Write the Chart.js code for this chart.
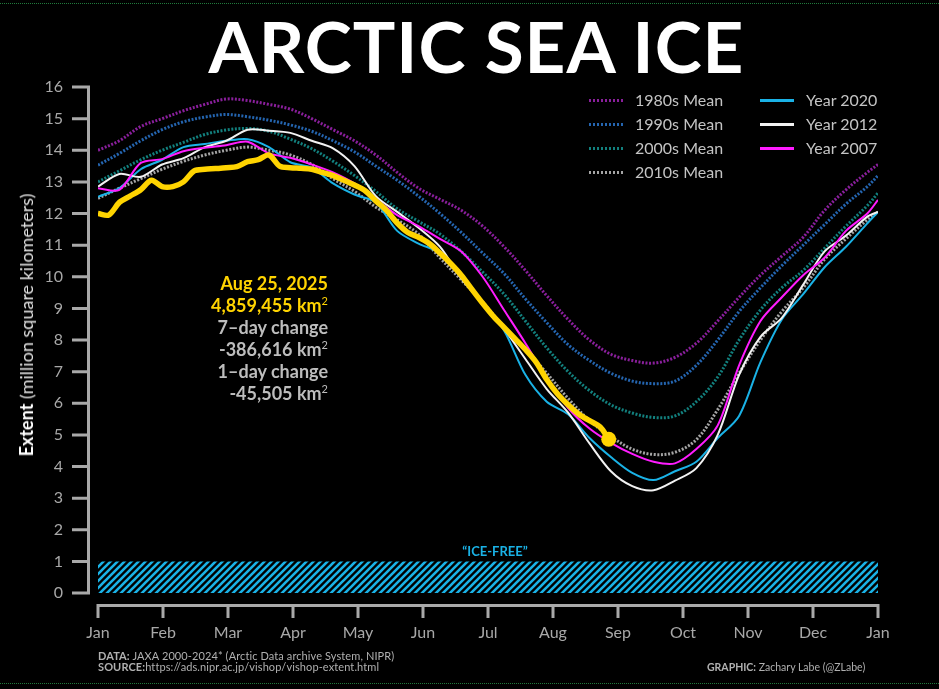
<!DOCTYPE html>
<html>
<head>
<meta charset="utf-8">
<script src="https://cdn.jsdelivr.net/npm/chart.js@4.4.1/dist/chart.umd.min.js"></script>
<style>
  html, body { margin: 0; padding: 0; background: #000; }
  body { width: 939px; height: 689px; position: relative; overflow: hidden; font-family: Lato, "DejaVu Sans", sans-serif; }
  canvas { position: absolute; left: 0; top: 0; }
  .frame-top, .frame-bottom { position: absolute; left: 0; width: 939px; border-top: 1px dotted #1f7a3c; }
  .frame-top { top: 3px; }
  .frame-bottom { top: 683px; }
  .title { position: absolute; top: 4px; left: 7px; width: 939px; text-align: center; color: #fff; font-weight: 700; font-size: 71px; line-height: 84px; letter-spacing: 1px; }
  .ytitle { position: absolute; left: 26px; top: 325px; transform: translate(-50%, -50%) rotate(-90deg); white-space: nowrap; font-size: 18px; color: #e0e0e0; }
  .ytitle b { color: #fff; }
  .note { position: absolute; right: 611px; top: 272px; text-align: right; font-size: 18px; font-weight: 700; line-height: 22px; white-space: nowrap; }
  .note .y { color: #ffd400; }
  .note .g { color: #bdbdbd; }
  .note sup { font-size: 11px; font-weight: 400; vertical-align: 7px; line-height: 0; }
  .legend { position: absolute; font-size: 16px; color: #c4c4c4; }
  .legend div { position: absolute; white-space: nowrap; height: 20px; line-height: 20px; }
  .legend span.s { position: absolute; top: 9px; height: 3px; width: 34px; }
  .legend span.t { position: absolute; left: 46px; top: 0; }
  .icefree { position: absolute; left: 495px; top: 543px; transform: translateX(-50%); color: #1ab2e6; font-weight: 700; font-size: 13px; white-space: nowrap; }
  .src { position: absolute; left: 98px; top: 650px; font-size: 11px; line-height: 11px; color: #b0b0b0; white-space: nowrap; letter-spacing: 0.1px; }
  .credit { position: absolute; left: 707px; top: 661px; font-size: 10.5px; color: #b0b0b0; white-space: nowrap; }
</style>
</head>
<body>
<canvas id="chart" width="939" height="689"></canvas>
<div class="frame-top"></div>
<div class="frame-bottom"></div>
<div class="title">ARCTIC SEA ICE</div>
<div class="ytitle"><b>Extent</b> (million square kilometers)</div>
<div class="note">
  <div class="y">Aug 25, 2025</div>
  <div class="y">4,859,455 km<sup>2</sup></div>
  <div class="g">7–day change</div>
  <div class="g">-386,616 km<sup>2</sup></div>
  <div class="g">1–day change</div>
  <div class="g">-45,505 km<sup>2</sup></div>
</div>
<div class="legend" id="legend"></div>
<div class="icefree">“ICE-FREE”</div>
<div class="src"><b>DATA:</b> JAXA 2000-2024* (Arctic Data archive System, NIPR)<br><b>SOURCE:</b>https://ads.nipr.ac.jp/vishop/vishop-extent.html</div>
<div class="credit"><b>GRAPHIC:</b> Zachary Labe (@ZLabe)</div>
<script>
// day of year for the decade means and the older years
const days10 = [0, 10, 20, 30, 40, 50, 60, 70, 80, 90, 100, 110, 120, 130, 140, 150, 160, 170, 180,
  190, 200, 210, 220, 230, 240, 250, 260, 270, 280, 290, 300, 310, 320, 330, 340, 350, 360, 365];

const mean1980s = [14.0, 14.3, 14.75, 15.0, 15.25, 15.45, 15.62, 15.57, 15.45, 15.3, 15.0, 14.65, 14.3,
  13.85, 13.3, 12.8, 12.45, 12.1, 11.6, 10.95, 10.2, 9.4, 8.65, 8.0, 7.55, 7.35, 7.27, 7.45, 7.9, 8.6,
  9.35, 10.05, 10.65, 11.25, 12.1, 12.75, 13.3, 13.55];
const mean1990s = [13.53, 13.9, 14.3, 14.65, 14.9, 15.05, 15.13, 15.06, 14.95, 14.8, 14.6, 14.3, 13.95,
  13.5, 13.05, 12.55, 12.0, 11.4, 10.75, 10.1, 9.3, 8.55, 7.85, 7.35, 6.95, 6.7, 6.62, 6.7, 7.2, 8.0,
  8.9, 9.65, 10.35, 11.0, 11.65, 12.3, 12.85, 13.2];
const mean2000s = [13.0, 13.35, 13.7, 14.0, 14.25, 14.5, 14.64, 14.69, 14.6, 14.35, 14.05, 13.65, 13.2,
  12.7, 12.15, 11.75, 11.35, 10.8, 10.15, 9.45, 8.6, 7.75, 7.0, 6.4, 5.95, 5.69, 5.55, 5.6, 6.05, 6.83,
  8.0, 8.95, 9.65, 10.2, 10.9, 11.6, 12.25, 12.65];
const mean2010s = [12.48, 12.8, 13.1, 13.4, 13.65, 13.85, 14.0, 14.1, 14.0, 13.85, 13.55, 13.1, 12.7,
  12.2, 11.8, 11.35, 10.6, 9.9, 9.2, 8.4, 7.7, 6.95, 6.15, 5.45, 4.95, 4.55, 4.38, 4.45, 4.85, 5.8,
  6.95, 8.0, 8.9, 9.65, 10.55, 11.2, 11.8, 12.05];

const year2020 = [12.53, 12.8, 13.4, 13.7, 14.1, 14.2, 14.3, 14.35, 14.1, 13.62, 13.45, 12.95, 12.6,
  12.35, 11.45, 11.05, 10.75, 10.0, 9.16, 8.3, 6.9, 6.05, 5.65, 4.9, 4.3, 3.8, 3.57, 3.85, 4.15, 4.9,
  5.6, 7.3, 8.65, 9.45, 10.3, 10.95, 11.69, 12.05];
const year2012 = [12.85, 13.25, 13.16, 13.55, 13.75, 14.1, 14.3, 14.65, 14.62, 14.55, 14.3, 14.06, 13.5,
  12.55, 12.05, 11.55, 10.95, 9.95, 9.16, 8.35, 7.4, 6.45, 5.7, 4.73, 3.85, 3.38, 3.25, 3.55, 3.95, 5.0,
  6.9, 8.1, 8.7, 9.75, 10.8, 11.3, 11.9, 12.05];
const year2007 = [12.8, 12.75, 13.6, 13.72, 13.97, 14.08, 14.16, 14.27, 13.9, 13.76, 13.55, 13.3, 12.95,
  12.45, 11.95, 11.6, 11.2, 10.8, 10.0, 8.95, 7.9, 6.8, 5.85, 5.2, 4.75, 4.4, 4.15, 4.1, 4.55, 5.3,
  7.2, 8.6, 9.35, 10.05, 10.6, 11.45, 12.0, 12.43];

// 2025 so far, every 5 days up to the last value (Aug 25)
const days2025 = [0, 5, 10, 15, 20, 25, 30, 35, 40, 45, 50, 55, 60, 65, 70, 75, 80, 85, 90, 95, 100,
  105, 110, 115, 120, 125, 130, 135, 140, 145, 150, 155, 160, 165, 170, 175, 180, 185, 190, 195, 200,
  205, 210, 215, 220, 225, 230, 235, 239];
const year2025 = [12.0, 11.95, 12.35, 12.55, 12.75, 13.05, 12.85, 12.85, 13.0, 13.35, 13.4, 13.42, 13.45,
  13.48, 13.64, 13.7, 13.85, 13.5, 13.45, 13.43, 13.4, 13.3, 13.2, 13.05, 12.9, 12.72, 12.4, 12.1, 11.7,
  11.4, 11.25, 11.05, 10.75, 10.42, 10.05, 9.6, 9.16, 8.75, 8.4, 8.05, 7.7, 7.3, 6.75, 6.3, 5.95, 5.65,
  5.45, 5.25, 4.86];

const iceFreeDays = [0, 365];
const iceFreeLevel = [1, 1];

const monthTicks = [0, 30.42, 60.83, 91.25, 121.67, 152.08, 182.5, 212.92, 243.33, 273.75, 304.17, 334.58, 365];
const monthLabels = ["Jan", "Feb", "Mar", "Apr", "May", "Jun", "Jul", "Aug", "Sep", "Oct", "Nov", "Dec", "Jan"];
const yTicks = [0, 1, 2, 3, 4, 5, 6, 7, 8, 9, 10, 11, 12, 13, 14, 15, 16];

const legendItems = [
  { label: "1980s Mean", color: "#8a1f9c", dotted: true, col: 0 },
  { label: "1990s Mean", color: "#2465b0", dotted: true, col: 0 },
  { label: "2000s Mean", color: "#12807e", dotted: true, col: 0 },
  { label: "2010s Mean", color: "#a5a5a5", dotted: true, col: 0 },
  { label: "Year 2020", color: "#1ab2e6", dotted: false, col: 1 },
  { label: "Year 2012", color: "#f2f2f2", dotted: false, col: 1 },
  { label: "Year 2007", color: "#ff1cff", dotted: false, col: 1 },
];

function pts(days, vals) {
  return days.map((d, i) => ({ x: d, y: vals[i] }));
}

// html legend, two columns
const legend = document.getElementById("legend");
let rows = [0, 0];
legendItems.forEach((item) => {
  const row = document.createElement("div");
  row.style.left = item.col ? "760px" : "589px";
  row.style.top = 90 + rows[item.col] * 24 + "px";
  rows[item.col]++;
  const bg = item.dotted
    ? `repeating-linear-gradient(90deg, ${item.color} 0 2px, transparent 2px 4px)`
    : item.color;
  row.innerHTML = `<span class="s" style="background:${bg}"></span><span class="t">${item.label}</span>`;
  legend.append(row);
});

const canvas = document.getElementById("chart");
const ctx = canvas.getContext("2d");

// diagonal hatch for the ice-free band
const tile = document.createElement("canvas");
tile.width = 7;
tile.height = 7;
const tg = tile.getContext("2d");
tg.strokeStyle = "#1ab2e6";
tg.lineWidth = 2.6;
tg.beginPath();
tg.moveTo(-1, 8); tg.lineTo(8, -1);
tg.moveTo(-4.5, 4.5); tg.lineTo(4.5, -4.5);
tg.moveTo(2.5, 11.5); tg.lineTo(11.5, 2.5);
tg.stroke();
const hatch = ctx.createPattern(tile, "repeat");

// offset spines with tick marks, drawn by hand
const spines = {
  id: "spines",
  afterDraw(chart) {
    const { x, y } = chart.scales;
    const c = chart.ctx;
    c.save();
    c.strokeStyle = "#a9a9a9";
    c.lineWidth = 3;
    c.lineCap = "square";
    c.beginPath();
    const ax = x.getPixelForValue(0) - 9.5;
    c.moveTo(ax, y.getPixelForValue(16));
    c.lineTo(ax, y.getPixelForValue(0));
    yTicks.forEach((v) => {
      const py = y.getPixelForValue(v);
      c.moveTo(ax - 15, py);
      c.lineTo(ax, py);
    });
    const by = y.getPixelForValue(0) + 12.5;
    c.moveTo(x.getPixelForValue(0), by);
    c.lineTo(x.getPixelForValue(365), by);
    monthTicks.forEach((v) => {
      const px = x.getPixelForValue(v);
      c.moveTo(px, by);
      c.lineTo(px, by + 11);
    });
    c.stroke();
    c.restore();
  },
};

function meanLine(label, vals, color) {
  return {
    label, data: pts(days10, vals), borderColor: color, borderWidth: 3,
    borderDash: [2, 1.6], pointRadius: 0, tension: 0.35, fill: false,
  };
}
function yearLine(label, vals, color) {
  return {
    label, data: pts(days10, vals), borderColor: color, borderWidth: 2,
    pointRadius: 0, tension: 0.3, fill: false,
  };
}

new Chart(ctx, {
  type: "line",
  data: {
    datasets: [
      {
        label: "2025", data: pts(days2025, year2025), borderColor: "#ffd400", borderWidth: 5.5,
        tension: 0.3, fill: false, pointBorderWidth: 0, pointBackgroundColor: "#ffd400",
        pointRadius: (c) => (c.dataIndex === days2025.length - 1 ? 7.5 : 0),
      },
      yearLine("Year 2007", year2007, "#ff1cff"),
      yearLine("Year 2012", year2012, "#f2f2f2"),
      yearLine("Year 2020", year2020, "#1ab2e6"),
      meanLine("2010s Mean", mean2010s, "#a5a5a5"),
      meanLine("2000s Mean", mean2000s, "#12807e"),
      meanLine("1990s Mean", mean1990s, "#2465b0"),
      meanLine("1980s Mean", mean1980s, "#8a1f9c"),
      {
        label: "ice-free", data: pts(iceFreeDays, iceFreeLevel), borderWidth: 0, pointRadius: 0,
        fill: "origin", backgroundColor: hatch, tension: 0,
      },
    ],
  },
  options: {
    responsive: false,
    animation: false,
    devicePixelRatio: 1,
    layout: { padding: { top: 87, right: 61, left: 0, bottom: 0 } },
    plugins: { legend: { display: false }, tooltip: { enabled: false } },
    scales: {
      x: {
        type: "linear", min: 0, max: 365,
        grid: { display: false, drawTicks: false },
        border: { display: false },
        afterBuildTicks: (s) => { s.ticks = monthTicks.map((v) => ({ value: v })); },
        afterFit: (s) => { s.height = 96; },
        ticks: {
          color: "#a8a8a8", font: { family: "Lato", size: 16 }, padding: 30,
          autoSkip: false, maxRotation: 0, callback: (v, i) => monthLabels[i],
        },
      },
      y: {
        min: 0, max: 16,
        grid: { display: false, drawTicks: false },
        border: { display: false },
        afterFit: (s) => { s.width = 98; },
        ticks: { stepSize: 1, color: "#a8a8a8", font: { family: "Lato", size: 16 }, padding: 35 },
      },
    },
  },
  plugins: [spines],
});
</script>
</body>
</html>
